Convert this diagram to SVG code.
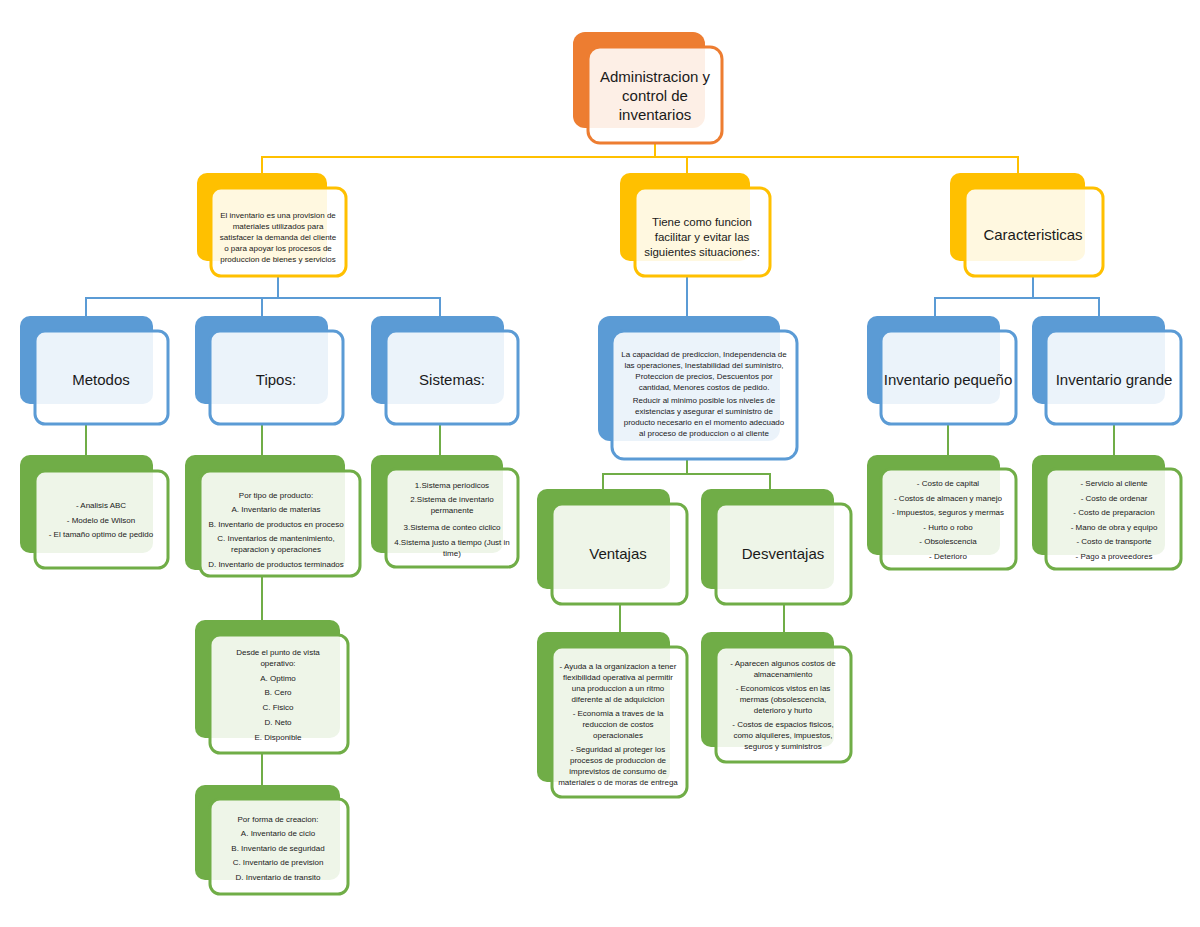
<svg xmlns="http://www.w3.org/2000/svg" width="1200" height="927" viewBox="0 0 1200 927">
<style>
.bo{fill:#ED7D31}.fo{stroke:#ED7D31}
.by{fill:#FFC000}.fy{stroke:#FFC000}
.bb{fill:#5B9BD5}.fb{stroke:#5B9BD5}
.bg{fill:#70AD47}.fg{stroke:#70AD47}
.f{fill:#fff;fill-opacity:0.88;stroke-width:3}
text{font-family:"Liberation Sans",Arial,sans-serif;fill:#1a1a1a;text-anchor:middle}
.t{font-size:15px}.s{font-size:8px}.m{font-size:11.5px}
.c{fill:none;stroke-width:2}
</style>
<g id="connectors">
<path class="c" stroke="#FFC000" d="M655,143V157M262,173V157H1018V173M687,157V173"/>
<path class="c" stroke="#5B9BD5" d="M278,276V298M86,316V298H440V316M262,298V316M687,276V316M1033,276V298M935,316V298H1099V316"/>
<path class="c" stroke="#70AD47" d="M86,424V455M262,424V455M440,424V455M262,576V620M262,753V785M687,459V474M603,489V474H770V489M620,604V632M784,604V632M948,424V455M1114,424V455"/>
</g>
<g id="root"><rect class="bo" x="573" y="32" width="132" height="96" rx="12"/><rect class="f fo" x="588" y="47" width="134" height="96" rx="12"/>
<text class="t" x="655" y="82">Administracion y</text><text class="t" x="655" y="101">control de</text><text class="t" x="655" y="120">inventarios</text></g>
<g id="def"><rect class="by" x="197" y="173" width="130" height="88" rx="10"/><rect class="f fy" x="211" y="188" width="135" height="88" rx="10"/>
<text class="s" x="278" y="218">El inventario es una provision de</text><text class="s" x="278" y="229">materiales utilizados para</text><text class="s" x="278" y="240">satisfacer la demanda del cliente</text><text class="s" x="278" y="251">o para apoyar los procesos de</text><text class="s" x="278" y="262">produccion de bienes y servicios</text></g>
<g id="funcion"><rect class="by" x="620" y="173" width="130" height="88" rx="10"/><rect class="f fy" x="635" y="188" width="135" height="88" rx="10"/>
<text class="m" x="702" y="226">Tiene como funcion</text><text class="m" x="702" y="241">facilitar y evitar las</text><text class="m" x="702" y="256">siguientes situaciones:</text></g>
<g id="caract"><rect class="by" x="950" y="173" width="135" height="88" rx="10"/><rect class="f fy" x="965" y="188" width="138" height="88" rx="10"/>
<text class="t" x="1033" y="240">Caracteristicas</text></g>
<g id="metodos"><rect class="bb" x="20" y="316" width="133" height="88" rx="10"/><rect class="f fb" x="35" y="331" width="133" height="93" rx="10"/><text class="t" x="101" y="385">Metodos</text></g>
<g id="tipos"><rect class="bb" x="195" y="316" width="133" height="88" rx="10"/><rect class="f fb" x="210" y="331" width="133" height="93" rx="10"/><text class="t" x="276" y="385">Tipos:</text></g>
<g id="sistemas"><rect class="bb" x="371" y="316" width="133" height="88" rx="10"/><rect class="f fb" x="386" y="331" width="132" height="93" rx="10"/><text class="t" x="452" y="385">Sistemas:</text></g>
<g id="situaciones"><rect class="bb" x="598" y="316" width="182" height="125" rx="12"/><rect class="f fb" x="612" y="331" width="185" height="128" rx="12"/>
<text class="s" x="704" y="357">La capacidad de  prediccion, Independencia de</text><text class="s" x="704" y="368">las operaciones, Inestabilidad del suministro,</text><text class="s" x="704" y="379">Proteccion de precios, Descuentos por</text><text class="s" x="704" y="390">cantidad, Menores costos de pedido.</text><text class="s" x="704" y="403">Reducir al minimo posible los niveles de</text><text class="s" x="704" y="414">existencias y asegurar el suministro de</text><text class="s" x="704" y="425">producto necesario en el momento adecuado</text><text class="s" x="704" y="436">al proceso de produccion o al cliente</text></g>
<g id="pequeno"><rect class="bb" x="867" y="316" width="133" height="88" rx="10"/><rect class="f fb" x="881" y="331" width="135" height="93" rx="10"/><text class="t" x="948" y="385">Inventario pequeño</text></g>
<g id="grande"><rect class="bb" x="1032" y="316" width="133" height="88" rx="10"/><rect class="f fb" x="1046" y="331" width="135" height="93" rx="10"/><text class="t" x="1114" y="385">Inventario grande</text></g>
<g id="metodos-l"><rect class="bg" x="20" y="455" width="133" height="98" rx="10"/><rect class="f fg" x="35" y="471" width="133" height="97" rx="10"/>
<text class="s" x="101" y="508">- Analisis ABC</text><text class="s" x="101" y="523">- Modelo de Wilson</text><text class="s" x="101" y="537">- El tamaño optimo de pedido</text></g>
<g id="tipos-l"><rect class="bg" x="185" y="455" width="160" height="115" rx="10"/><rect class="f fg" x="200" y="471" width="160" height="105" rx="10"/>
<text class="s" x="276" y="498">Por tipo de producto:</text><text class="s" x="276" y="512">A. Inventario de materias</text><text class="s" x="276" y="527">B. Inventario de productos en proceso</text><text class="s" x="276" y="541">C. Inventarios de  mantenimiento,</text><text class="s" x="276" y="552">reparacion y operaciones</text><text class="s" x="276" y="567">D. Inventario de productos terminados</text></g>
<g id="sistemas-l"><rect class="bg" x="371" y="455" width="132" height="98" rx="10"/><rect class="f fg" x="386" y="469" width="132" height="98" rx="10"/>
<text class="s" x="452" y="488">1.Sistema periodicos</text><text class="s" x="452" y="502">2.Sistema de inventario</text><text class="s" x="452" y="513">permanente</text><text class="s" x="452" y="530">3.Sistema de conteo ciclico</text><text class="s" x="452" y="545">4.Sistema justo a tiempo (Just in</text><text class="s" x="452" y="556">time)</text></g>
<g id="desde"><rect class="bg" x="195" y="620" width="145" height="118" rx="10"/><rect class="f fg" x="210" y="635" width="138" height="118" rx="10"/>
<text class="s" x="278" y="655">Desde el punto de vista</text><text class="s" x="278" y="666">operativo:</text><text class="s" x="278" y="681">A. Optimo</text><text class="s" x="278" y="695">B. Cero</text><text class="s" x="278" y="710">C. Fisico</text><text class="s" x="278" y="725">D. Neto</text><text class="s" x="278" y="740">E. Disponible</text></g>
<g id="forma"><rect class="bg" x="195" y="785" width="145" height="95" rx="10"/><rect class="f fg" x="210" y="799" width="138" height="95" rx="10"/>
<text class="s" x="278" y="822">Por forma de creacion:</text><text class="s" x="278" y="836">A. Inventario de ciclo</text><text class="s" x="278" y="851">B. Inventario de seguridad</text><text class="s" x="278" y="865">C. Inventario de prevision</text><text class="s" x="278" y="880">D. Inventario de transito</text></g>
<g id="ventajas"><rect class="bg" x="537" y="489" width="133" height="100" rx="10"/><rect class="f fg" x="552" y="504" width="135" height="100" rx="10"/><text class="t" x="618" y="559">Ventajas</text></g>
<g id="desventajas"><rect class="bg" x="701" y="489" width="133" height="100" rx="10"/><rect class="f fg" x="716" y="504" width="135" height="100" rx="10"/><text class="t" x="783" y="559">Desventajas</text></g>
<g id="ventajas-l"><rect class="bg" x="537" y="632" width="133" height="150" rx="10"/><rect class="f fg" x="552" y="647" width="135" height="150" rx="10"/>
<text class="s" x="618" y="669">- Ayuda a la organizacion a tener</text><text class="s" x="618" y="680">flexibilidad operativa al permitir</text><text class="s" x="618" y="691">una produccion a un ritmo</text><text class="s" x="618" y="702">diferente al de adquicicion</text><text class="s" x="618" y="716">- Economia a traves de la</text><text class="s" x="618" y="727">reduccion de costos</text><text class="s" x="618" y="738">operacionales</text><text class="s" x="618" y="752">- Seguridad al proteger los</text><text class="s" x="618" y="763">procesos de produccion de</text><text class="s" x="618" y="774">imprevistos de consumo de</text><text class="s" x="618" y="785">materiales o de moras de entrega</text></g>
<g id="desventajas-l"><rect class="bg" x="701" y="632" width="133" height="115" rx="10"/><rect class="f fg" x="716" y="647" width="135" height="115" rx="10"/>
<text class="s" x="783" y="666">- Aparecen algunos costos de</text><text class="s" x="783" y="677">almacenamiento</text><text class="s" x="783" y="691">- Economicos vistos en las</text><text class="s" x="783" y="702">mermas (obsolescencia,</text><text class="s" x="783" y="713">deterioro y hurto</text><text class="s" x="783" y="727">- Costos de espacios fisicos,</text><text class="s" x="783" y="738">como alquileres, impuestos,</text><text class="s" x="783" y="749">seguros y suministros</text></g>
<g id="pequeno-l"><rect class="bg" x="867" y="455" width="133" height="100" rx="10"/><rect class="f fg" x="881" y="469" width="135" height="100" rx="10"/>
<text class="s" x="948" y="486">- Costo de capital</text><text class="s" x="948" y="501">- Costos de almacen y manejo</text><text class="s" x="948" y="515">- Impuestos, seguros y mermas</text><text class="s" x="948" y="530">- Hurto o robo</text><text class="s" x="948" y="544">- Obsolescencia</text><text class="s" x="948" y="559">- Deterioro</text></g>
<g id="grande-l"><rect class="bg" x="1032" y="455" width="133" height="100" rx="10"/><rect class="f fg" x="1046" y="469" width="135" height="100" rx="10"/>
<text class="s" x="1114" y="486">- Servicio al cliente</text><text class="s" x="1114" y="501">- Costo de ordenar</text><text class="s" x="1114" y="515">- Costo de preparacion</text><text class="s" x="1114" y="530">- Mano de obra y equipo</text><text class="s" x="1114" y="544">- Costo de transporte</text><text class="s" x="1114" y="559">- Pago a proveedores</text></g>
</svg>
